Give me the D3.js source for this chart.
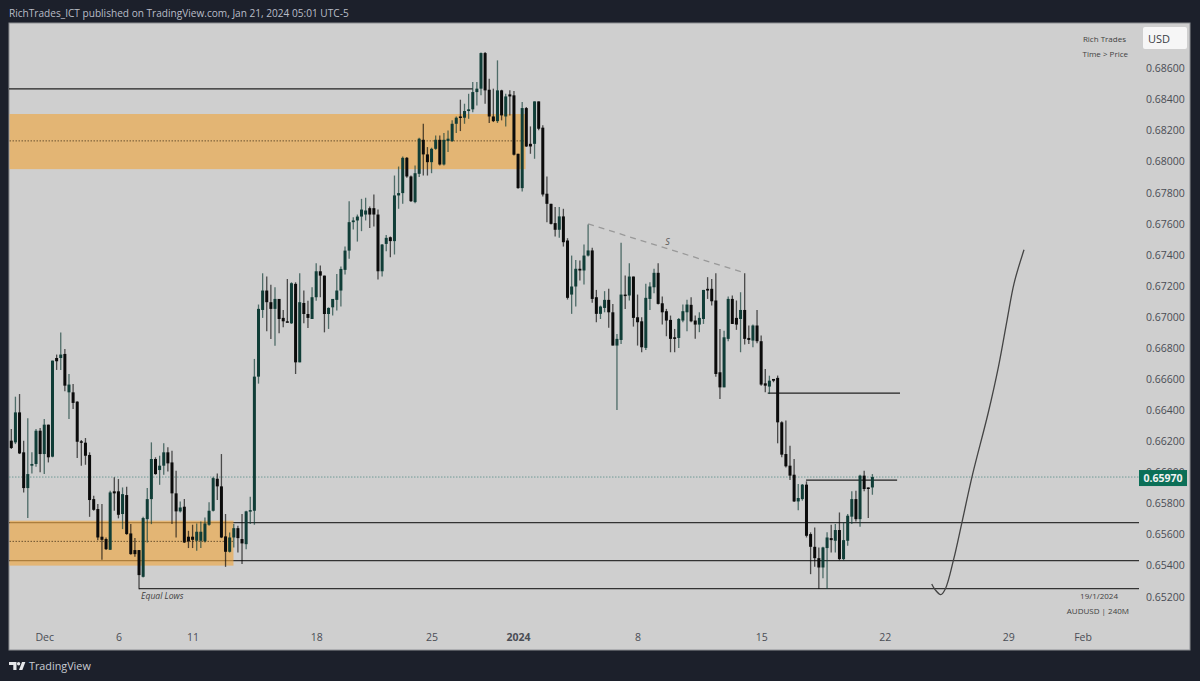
<!DOCTYPE html>
<html>
<head>
<meta charset="utf-8">
<title>AUDUSD 240M</title>
<script src="https://cdn.jsdelivr.net/npm/d3@7"></script>
<style>
  html, body { margin: 0; padding: 0; background: #1c202b; overflow: hidden; }
  svg { display: block; font-family: "Open Sans", sans-serif; }
</style>
</head>
<body>
<svg id="chart" width="1200" height="681"></svg>
<script>
// AUDUSD 4H candles, values in 1/100000 of a dollar
const opens = [
  66204,66193,66386,66129,65899,66043,66054,66268,66118,66307,
  66101,66736,66736,66762,66515,66515,66455,66200,66191,66112,
  65828,65764,65586,65571,65502,65878,65878,65732,65854,65607,
  65500,65500,65328,65699,65828,66086,66015,66043,66129,66064,
  65865,65749,65779,65586,65586,65560,65560,65556,65663,65753,
  65959,65910,65588,65489,65581,65641,65571,65538,65749,65753,
  66616,67045,67170,67095,67052,67116,66994,66972,66959,67213,
  66708,67090,67019,66987,67127,67294,67266,67019,67062,67110,
  67170,67303,67427,67610,67621,67646,67659,67700,67700,67659,
  67294,67470,67513,67488,67782,67797,68024,67904,67739,67921,
  68140,68046,67996,68082,68140,67981,68132,68132,68243,68290,
  68282,68325,68336,68447,68469,68698,68462,68290,68260,68458,
  68290,68432,68426,68050,67829,68344,68114,68114,68387,68218,
  67793,67728,67604,67561,67647,67492,67144,67196,67310,67299,
  67395,67428,67127,67020,67058,67110,67030,66816,66852,67144,
  67138,67260,66998,66972,66801,67116,67191,67284,67088,67037,
  66981,66869,66865,66977,67030,67078,66977,66951,66987,67181,
  67181,67106,66644,66547,66859,67116,66994,66987,67045,66865,
  66848,66945,66844,66573,66552,66601,66608,66322,66118,66043,
  65985,65813,65828,65921,65603,65521,65448,65388,65513,65577,
  65560,65629,65442,65560,65715,65828,65699,65979,65903,65903
];
const highs = [
  66279,66487,66504,66204,66348,66129,66279,66285,66343,66307,
  66719,66758,66900,66794,66633,66569,66457,66208,66221,66129,
  65850,65796,65796,65581,65882,65968,65957,65903,65908,65667,
  65577,65500,65714,65899,66193,66097,66107,66187,66161,66139,
  66011,65813,65828,65624,65663,65671,65684,65710,65807,65972,
  65993,66118,65732,65613,65667,65656,65732,65753,65843,66730,
  67080,67281,67260,67208,67191,67116,67045,67245,67223,67223,
  67281,67170,67105,67191,67346,67331,67266,67062,67116,67277,
  67324,67453,67745,67642,67659,67760,67767,67711,67788,67691,
  67470,67528,67518,67910,67968,68033,68029,67910,67975,68153,
  68243,68093,68089,68168,68168,68183,68200,68265,68290,68398,
  68372,68436,68512,68512,68701,68705,68533,68469,68651,68462,
  68436,68458,68454,68050,68383,68351,68226,68387,68387,68233,
  67904,67728,67707,67707,67696,67507,67395,67367,67363,67466,
  67595,67445,67174,67073,67166,67181,67084,66891,67477,67267,
  67346,67260,67144,66998,67213,67224,67310,67346,67131,67052,
  67009,66923,66994,67080,67110,67127,67009,67030,67174,67256,
  67245,67282,66923,66912,67131,67138,67106,67159,67282,66945,
  66951,67045,66880,66665,66622,66601,66623,66329,66333,66172,
  66086,65925,65925,65942,65614,65646,65517,65521,65614,65663,
  65667,65742,65678,65732,65878,65882,65985,66011,65903,65989
];
const lows = [
  66150,66182,66118,65871,65706,65993,66036,66000,65989,66064,
  66097,66659,66659,66522,66343,66408,66092,66043,66049,65714,
  65753,65564,65437,65500,65500,65753,65704,65635,65598,65470,
  65457,65248,65324,65549,65667,65985,65920,65985,66006,65667,
  65581,65742,65545,65513,65513,65495,65513,65549,65656,65749,
  65822,65577,65392,65485,65517,65485,65410,65506,65667,65663,
  66571,66994,66908,66858,66815,66895,66934,66966,66955,66633,
  66708,66959,66929,66987,67105,67127,66901,66923,67009,67041,
  67067,67273,67374,67563,67485,67552,67621,67573,67582,67241,
  67260,67423,67384,67402,67696,67728,67895,67739,67732,67900,
  67910,67910,67925,68076,67975,67975,68061,68125,68183,68196,
  68243,68275,68318,68361,68426,68372,68248,68254,68248,68265,
  68226,68297,68039,67825,67807,68093,68050,68018,68201,67775,
  67610,67595,67518,67509,67453,67112,67020,67067,67234,67209,
  67389,67091,66966,66987,67030,66930,66816,66401,66826,67052,
  67106,66938,66816,66773,66788,67045,67153,67080,66951,66876,
  66773,66773,66801,66966,66908,66966,66859,66902,66955,67116,
  67073,66616,66472,66547,66844,66955,66917,66773,66822,66826,
  66805,66831,66558,66515,66504,66580,66187,66097,66032,65951,
  65809,65757,65818,65581,65345,65392,65249,65319,65249,65485,
  65485,65435,65435,65528,65667,65684,65650,65878,65706,65856
];
const closes = [
  66157,66386,66122,65899,65989,66054,66268,66118,66307,66097,
  66719,66715,66758,66558,66565,66447,66197,66191,66107,65822,
  65759,65581,65566,65506,65871,65865,65727,65860,65603,65474,
  65474,65339,65706,65828,66086,65989,66043,66129,66058,65865,
  65749,65774,65549,65556,65566,65618,65618,65671,65753,65963,
  65910,65581,65489,65581,65641,65577,65543,65749,65757,66616,
  67052,67170,67095,67052,67116,66987,66972,66966,67217,66708,
  67095,67019,66994,67127,67294,67266,67019,67058,67116,67170,
  67309,67427,67610,67621,67646,67691,67685,67659,67659,67294,
  67466,67509,67488,67782,67797,68024,67904,67745,67925,68147,
  68046,67996,68082,68140,67981,68140,68147,68243,68282,68282,
  68325,68336,68447,68469,68698,68458,68290,68260,68458,68297,
  68419,68419,68044,67829,68344,68097,68097,68387,68211,67788,
  67728,67599,67561,67647,67481,67123,67196,67310,67299,67395,
  67428,67116,67020,67067,67110,67030,66816,66859,67144,67138,
  67260,66994,66966,66805,67123,67196,67284,67084,67030,66977,
  66859,66859,66987,67037,67080,66972,66951,66994,67174,67170,
  67101,66633,66547,66869,67116,66955,66951,67045,66859,66852,
  66945,66844,66565,66558,66590,66590,66322,66114,66039,65979,
  65813,65835,65921,65592,65521,65448,65388,65517,65581,65564,
  65629,65442,65564,65721,65828,65699,65979,65893,65893,65970
];

// axis ticks
const priceTicks = [0.652,0.654,0.656,0.658,0.660,0.662,0.664,0.666,0.668,0.670,0.672,0.674,0.676,0.678,0.680,0.682,0.684,0.686];
const timeTickBars = [8,26,44,74,102,123,152,182,212,242,260];
const timeTickLabels = ['Dec','6','11','18','25','2024','8','15','22','29','Feb'];

// drawings, same units as the candles; bar = candle index
const lastPrice = 65970;
const levelPrices = [65676, 65432, 65252];
const levelStartBars = [null, null, 31];   // null: runs from the left edge
const stubPrices = [68467, 66510, 65950];
const stubStartBars = [null, 183.6, 192.9];
const stubEndBars = [112, 215.7, 215];
const zoneTops = [68306, 65689];
const zoneBottoms = [67951, 65400];
const zoneMids = [68133, 65556];
const zoneEndBars = [124.7, 53.8];
const dashBars = [140, 177.7];
const dashPrices = [67599, 67286];
const pathBars = [223.4,224.2,225.6,226.7,228.7,230.7,233.3,237.1,239.6,241.7,243.4,245.8];
const pathPrices = [65282,65246,65213,65250,65438,65674,65985,66382,66681,66982,67218,67432];

const GREEN = '#103d37';
const BLACK = '#0b0b0b';

const plot = { left: 9, right: 1190, top: 23, bottom: 650, axis: 1139 };

const svg = d3.select('#chart');
const x = d3.scaleLinear().domain([0, 209]).range([11.3, 872.4]);
const y = d3.scaleLinear().domain([0.652, 0.686]).range([596.7, 68.3]);
const yp = v => y(v / 1e5);
const xb = b => (b === null ? plot.left : x(b));

// Header
svg.append('text').attr('x', 9).attr('y', 16.5)
  .attr('fill', '#b9bdc7').attr('font-size', 10.1)
  .text('RichTrades_ICT published on TradingView.com, Jan 21, 2024 05:01 UTC-5');

// Chart background
svg.append('rect')
  .attr('x', plot.left).attr('y', plot.top)
  .attr('width', plot.right - plot.left).attr('height', plot.bottom - plot.top)
  .attr('fill', '#cfcfcf').attr('stroke', '#8d8f94').attr('stroke-width', 1);

// Last price line
svg.append('line')
  .attr('x1', plot.left).attr('x2', plot.axis)
  .attr('y1', yp(lastPrice)).attr('y2', yp(lastPrice))
  .attr('stroke', '#6f9a96').attr('stroke-width', 1).attr('stroke-dasharray', '1.5 1.5');

// Horizontal levels
levelPrices.forEach((p, i) => {
  svg.append('line')
    .attr('x1', xb(levelStartBars[i])).attr('x2', plot.axis)
    .attr('y1', yp(p)).attr('y2', yp(p))
    .attr('stroke', '#333').attr('stroke-width', 1.2);
});
stubPrices.forEach((p, i) => {
  svg.append('line')
    .attr('x1', xb(stubStartBars[i])).attr('x2', xb(stubEndBars[i]))
    .attr('y1', yp(p)).attr('y2', yp(p))
    .attr('stroke', '#222').attr('stroke-width', 1.2);
});

// Zones, translucent so the levels show through them in brown
zoneTops.forEach((top, i) => {
  svg.append('rect')
    .attr('x', plot.left + 0.5).attr('y', yp(top))
    .attr('width', xb(zoneEndBars[i]) - plot.left)
    .attr('height', yp(zoneBottoms[i]) - yp(top))
    .attr('fill', '#eea743').attr('fill-opacity', 0.65);
  svg.append('line')
    .attr('x1', plot.left + 0.5).attr('x2', xb(zoneEndBars[i]))
    .attr('y1', yp(zoneMids[i])).attr('y2', yp(zoneMids[i]))
    .attr('stroke', '#6b5330').attr('stroke-width', 1).attr('stroke-dasharray', '1.5 1.5');
});

// Dashed line and its label
svg.append('line')
  .attr('x1', x(dashBars[0])).attr('x2', x(dashBars[1]))
  .attr('y1', yp(dashPrices[0])).attr('y2', yp(dashPrices[1]))
  .attr('stroke', '#999').attr('stroke-width', 1.3).attr('stroke-dasharray', '6 5');
svg.append('text').attr('x', 667.5).attr('y', 245)
  .attr('text-anchor', 'middle').attr('font-size', 9).attr('font-style', 'italic')
  .attr('fill', '#555').text('S');

// Candles
const bars = d3.range(opens.length);
const isUp = i => closes[i] >= opens[i];
svg.append('g').selectAll('line').data(bars).join('line')
  .attr('x1', i => x(i)).attr('x2', i => x(i))
  .attr('y1', i => yp(highs[i])).attr('y2', i => yp(lows[i]))
  .attr('stroke', i => (isUp(i) ? GREEN : BLACK))
  .attr('stroke-opacity', 0.68).attr('stroke-width', 1.3);
svg.append('g').selectAll('rect').data(bars).join('rect')
  .attr('x', i => x(i) - 1.5).attr('width', 3)
  .attr('y', i => yp(Math.max(opens[i], closes[i])))
  .attr('height', i => Math.max(1.5, Math.abs(yp(opens[i]) - yp(closes[i]))))
  .attr('fill', i => (isUp(i) ? GREEN : BLACK));

// Projected path
svg.append('path')
  .datum(pathBars.map((b, i) => [b, pathPrices[i]]))
  .attr('d', d3.line().x(d => x(d[0])).y(d => yp(d[1])).curve(d3.curveCatmullRom.alpha(0.5)))
  .attr('fill', 'none').attr('stroke', '#444').attr('stroke-width', 1.3);

// Price axis
const yAxis = svg.append('g')
  .attr('transform', `translate(${plot.axis + 7},0)`)
  .call(d3.axisRight(y).tickValues(priceTicks).tickSize(0).tickPadding(0).tickFormat(d3.format('.5f')));
yAxis.select('.domain').remove();
yAxis.selectAll('text').attr('fill', '#4a4d55').attr('font-size', 10.5)
  .attr('font-family', '"Open Sans", sans-serif');

// Time axis
const xAxis = svg.append('g')
  .attr('transform', 'translate(0,633.5)')
  .call(d3.axisBottom(x).tickValues(timeTickBars).tickSize(0).tickPadding(0)
    .tickFormat((d, i) => timeTickLabels[i]));
xAxis.select('.domain').remove();
xAxis.selectAll('text').attr('fill', '#4a4d55').attr('font-size', 10.5)
  .attr('font-family', '"Open Sans", sans-serif')
  .attr('font-weight', (d, i) => (timeTickLabels[i] === '2024' ? 700 : 400));

// Last price badge
svg.append('rect')
  .attr('x', 1139).attr('y', yp(lastPrice) - 7).attr('width', 48).attr('height', 16)
  .attr('fill', '#0b6f57');
svg.append('text').attr('x', 1163).attr('y', yp(lastPrice) + 5)
  .attr('text-anchor', 'middle').attr('font-size', 10.5).attr('font-weight', 700)
  .attr('fill', '#f2f2f2').text(d3.format('.5f')(lastPrice / 1e5));

// Currency button
svg.append('rect')
  .attr('x', 1143).attr('y', 27).attr('width', 44).attr('height', 22).attr('rx', 2)
  .attr('fill', '#f6f6f6');
svg.append('text').attr('x', 1159).attr('y', 42.5)
  .attr('text-anchor', 'middle').attr('font-size', 11).attr('fill', '#3a3d45').text('USD');

// Chart notes
const notes = [
  ['Rich Trades', 1126, 42, 'end', 'normal', 8],
  ['Time > Price', 1128, 57, 'end', 'normal', 8],
  ['19/1/2024', 1118, 599, 'end', 'normal', 8],
  ['AUDUSD | 240M', 1129, 614, 'end', 'normal', 8],
  ['Equal Lows', 141, 599, 'start', 'italic', 8.6]
];
notes.forEach(n => {
  svg.append('text').attr('x', n[1]).attr('y', n[2])
    .attr('text-anchor', n[3]).attr('font-style', n[4])
    .attr('font-size', n[5]).attr('fill', '#3f3f3f').text(n[0]);
});

// Footer logo
const logo = svg.append('g').attr('fill', '#e6e7ea');
logo.append('path').attr('d', 'M9 662h7.5v8h-3.2v-5H9z');
logo.append('circle').attr('cx', 18.6).attr('cy', 663.8).attr('r', 1.7);
logo.append('path').attr('d', 'M19 670l3-8h3.4l-3 8z');
svg.append('text').attr('x', 29).attr('y', 670)
  .attr('font-size', 10.8).attr('fill', '#c9ccd3').text('TradingView');
</script>
</body>
</html>
